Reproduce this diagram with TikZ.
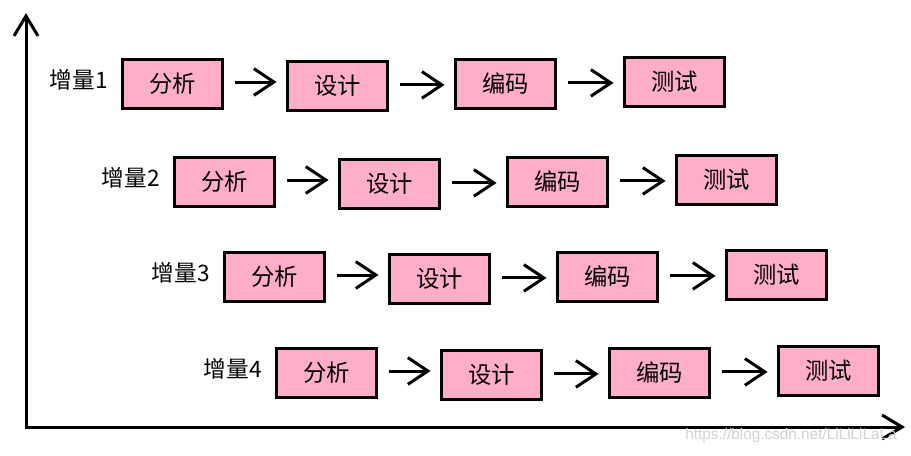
\documentclass[tikz,border=0pt]{standalone}
\usepackage{fontspec}
\setmainfont{Liberation Sans}
\newfontfamily\cjk{Noto Sans CJK SC}
\usetikzlibrary{arrows.meta}
\definecolor{boxpink}{RGB}{255,174,201}
\begin{document}
\begin{tikzpicture}[x=0.75pt,y=-0.75pt,
  stage/.style={draw=black, line width=2.4pt, fill=boxpink, minimum width=75pt, minimum height=36.75pt, inner sep=0pt, font=\cjk\fontsize{17.5}{17.5}\selectfont},
  lbl/.style={font=\cjk\fontsize{17}{17}\selectfont, inner sep=0pt, anchor=east},
  flow/.style={line width=2.25pt, -{Straight Barb[length=15pt,width=20pt]}, shorten <=8pt, shorten >=7pt},
  axis/.style={line width=2.25pt, line join=miter, {Straight Barb[length=15pt,width=18pt]}-{Straight Barb[length=15pt,width=18pt]}},
  wmark/.style={font=\fontsize{11.5}{11.5}\selectfont, text=black!18, inner sep=0pt}
]
\useasboundingbox (0,0) rectangle (911,455);
\coordinate (ytop) at (26,13);
\coordinate (o) at (26,427);
\coordinate (xend) at (905,427);
\draw[axis] (ytop) -- (o) -- (xend);
\foreach \r/\xo/\yo in {1/121/58, 2/173/156, 3/223/251, 4/275/347}{
  \node[lbl] (l\r) at (\xo-13,\yo+22) {增量\r};
  \node[stage] (a\r) at (\xo+51.5,\yo+26) {分析};
  \node[stage] (b\r) at (\xo+216.5,\yo+28) {设计};
  \node[stage] (c\r) at (\xo+384.5,\yo+26) {编码};
  \node[stage] (d\r) at (\xo+553.5,\yo+24) {测试};
  \draw[flow] ([yshift=1.5pt]a\r.east) -- ([yshift=1.5pt]a\r.east -| b\r.west);
  \draw[flow] ([yshift=0.8pt]b\r.east) -- ([yshift=0.8pt]b\r.east -| c\r.west);
  \draw[flow] ([yshift=0.8pt]c\r.east) -- ([yshift=0.8pt]c\r.east -| d\r.west);
}
\node[wmark] (wm) at (791,436) {https://blog.csdn.net/LiLiLiLaLa};
\end{tikzpicture}
\end{document}
